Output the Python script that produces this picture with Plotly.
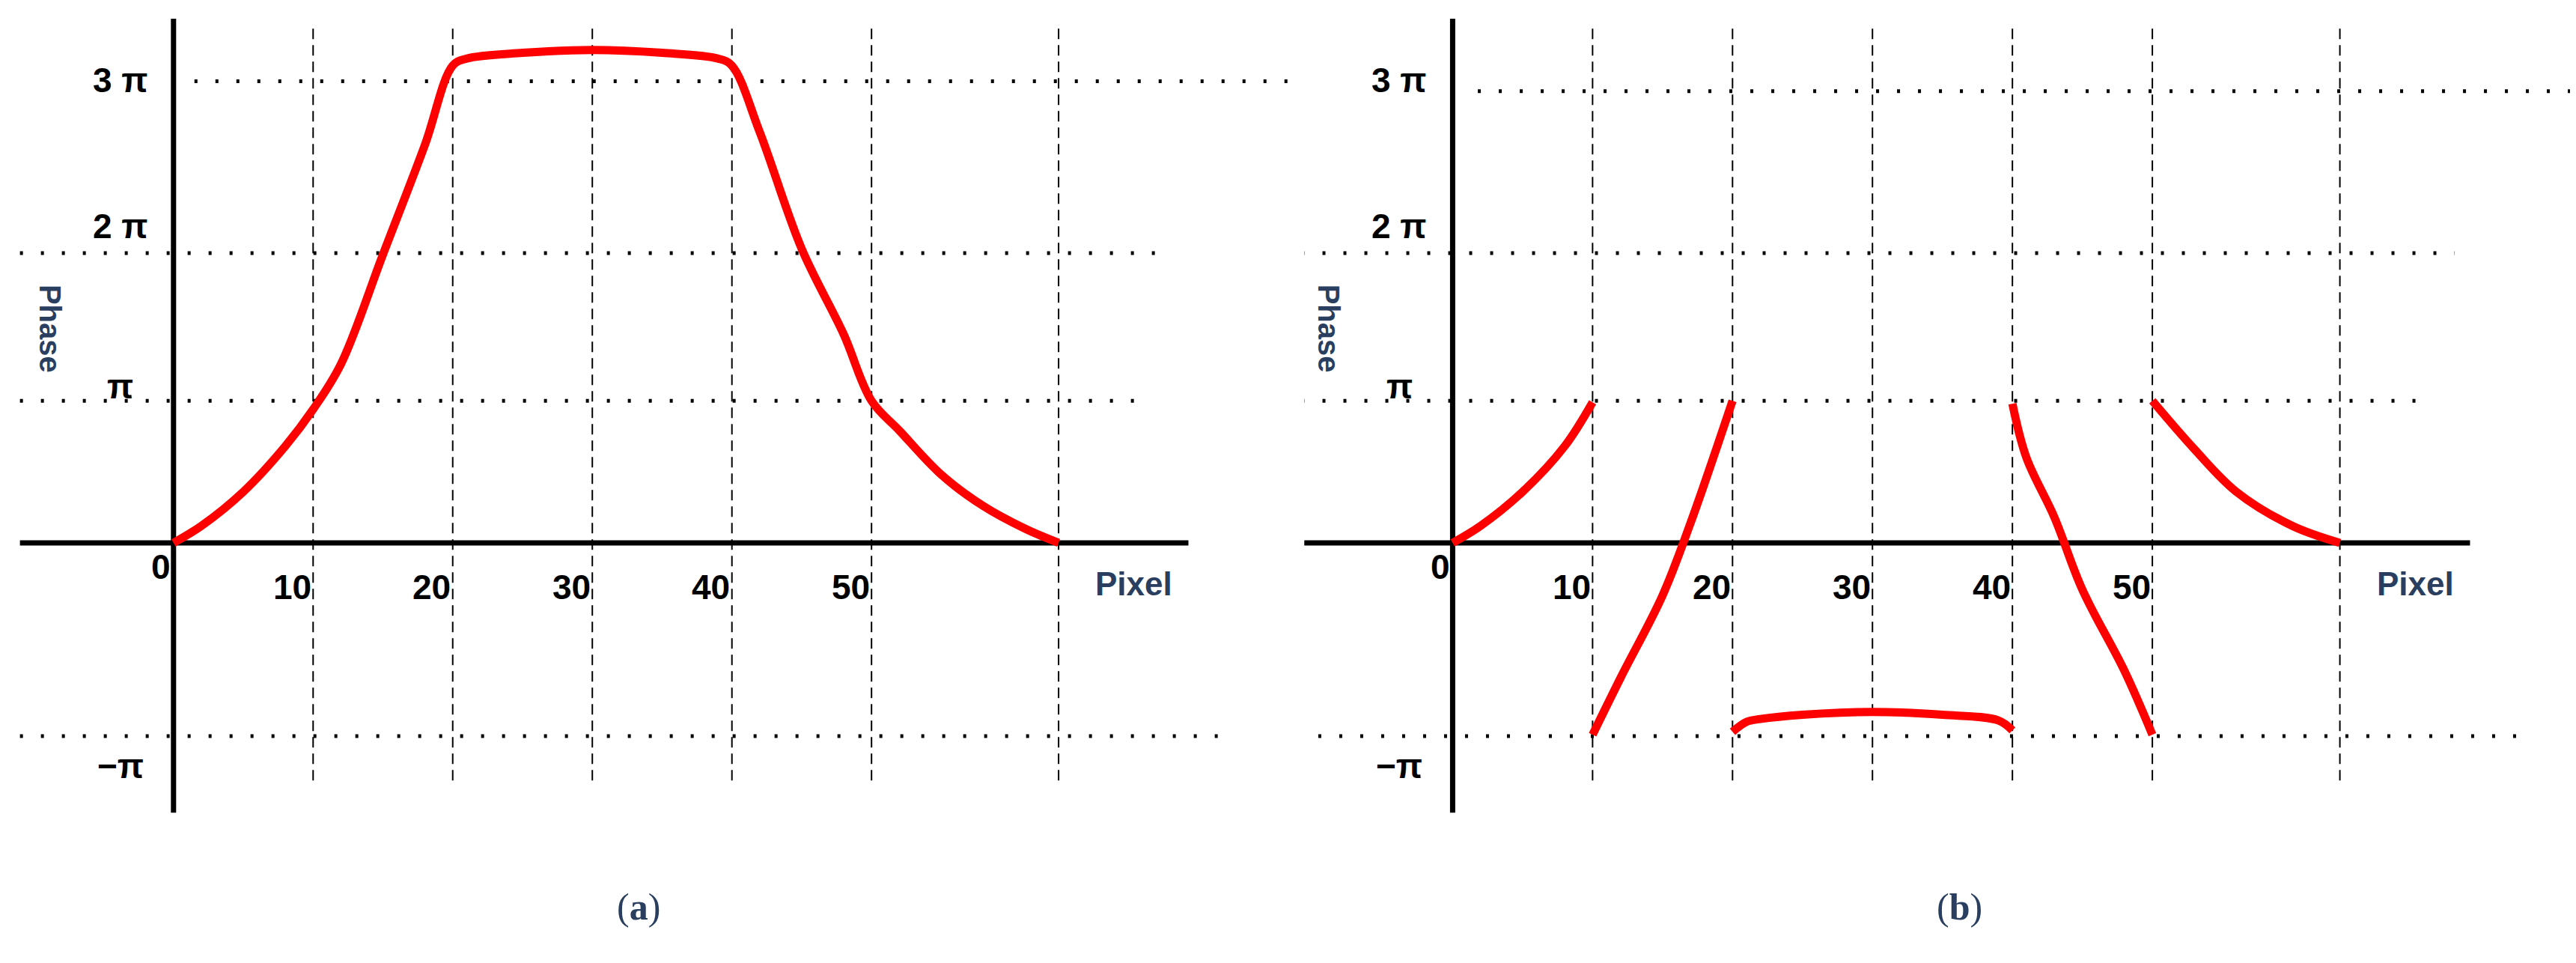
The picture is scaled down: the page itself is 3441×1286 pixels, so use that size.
import plotly.graph_objects as go

# phase in units of pi (schematic), pixel index
a_x = [0, 2, 5, 8, 10, 12, 15, 18, 20, 21, 25, 30, 35, 39, 40, 42, 45, 48, 50, 52, 55, 58, 61, 63.4]
a_y = [0, 0.12, 0.36, 0.68, 0.94, 1.26, 2.03, 2.8, 3.36, 3.41, 3.45, 3.47, 3.45, 3.41, 3.36, 2.89, 2.07, 1.47, 1.0, 0.79, 0.48, 0.26, 0.1, 0]

b_segments = [
    ([0, 2, 5, 8, 10], [0, 0.12, 0.36, 0.68, 0.99]),
    ([10, 12, 15, 17, 20], [-1.35, -0.95, -0.37, 0.14, 1.0]),
    ([20, 21, 22, 25, 30, 35, 39, 40], [-1.33, -1.26, -1.24, -1.21, -1.19, -1.21, -1.25, -1.32]),
    ([40, 41, 43, 45, 48, 50], [0.98, 0.6, 0.18, -0.33, -0.9, -1.35]),
    ([50, 53, 56, 60, 63.4], [1.0, 0.66, 0.36, 0.12, 0]),
]

grid_x = [10, 20, 30, 40, 50, 63.4]
tick_x = [10, 20, 30, 40, 50]
level_y = [3.25, 2.04, 1.0, -1.36]
level_y_b = [3.18, 2.04, 1.0, -1.36]
level_labels = ["3 π", "2 π", "π", "−π"]
label_y = [3.26, 2.23, 1.1, -1.57]
dot_span_a = [(1.5, 79.8), (-11, 71.5), (-11, 69.8), (-11, 75)]
dot_span_b = [(1.8, 80), (-10.8, 71.6), (-10.8, 69.9), (-9.6, 76.1)]

FONT = "Liberation Sans Narrow, Liberation Sans, Arial"
fig = go.Figure()


def panel(xa, ya, levels, spans, caption, cap_x):
    for lv, (x0, x1) in zip(levels, spans):
        fig.add_trace(go.Scatter(x=[x0, x1], y=[lv, lv], mode="lines", xaxis=xa, yaxis=ya,
                                 line=dict(color="black", width=5, dash="4px,24px"), showlegend=False))
    for gx in grid_x:
        fig.add_trace(go.Scatter(x=[gx, gx], y=[3.62, -1.69], mode="lines", xaxis=xa, yaxis=ya,
                                 line=dict(color="black", width=2, dash="14px,8px"), showlegend=False))
    fig.add_trace(go.Scatter(x=[-11, 72.7], y=[0, 0], mode="lines", xaxis=xa, yaxis=ya,
                             line=dict(color="black", width=7), showlegend=False))
    fig.add_trace(go.Scatter(x=[0, 0], y=[3.69, -1.9], mode="lines", xaxis=xa, yaxis=ya,
                             line=dict(color="black", width=7), showlegend=False))
    ref = dict(xref=xa, yref=ya, showarrow=False)
    f = dict(family=FONT, size=46, color="black")
    for lab, ly in zip(level_labels, label_y):
        fig.add_annotation(x=-3.8, y=ly, text="<b>%s</b>" % lab, font=f, **ref)
    fig.add_annotation(x=-0.9, y=-0.17, text="<b>0</b>", font=f, **ref)
    for t in tick_x:
        fig.add_annotation(x=t - 1.5, y=-0.31, text="<b>%d</b>" % t, font=f, **ref)
    fig.add_annotation(x=68.8, y=-0.29, text="<b>Pixel</b>", font=dict(family=FONT, size=44), **ref)
    fig.add_annotation(x=-8.8, y=1.51, text="<b>Phase</b>", textangle=90,
                       font=dict(family="Liberation Sans, Arial", size=40), **ref)
    fig.add_annotation(x=cap_x, y=-2.56, text="(<b>%s</b>)" % caption,
                       font=dict(family="Liberation Serif, Times New Roman", size=50), **ref)


panel("x", "y", level_y, dot_span_a, "a", 33.3)
panel("x2", "y2", level_y_b, dot_span_b, "b", 36.2)

fig.add_trace(go.Scatter(x=a_x, y=a_y, mode="lines", line=dict(color="#ff0000", width=11, shape="spline"),
                         xaxis="x", yaxis="y", showlegend=False))
for sx, sy in b_segments:
    fig.add_trace(go.Scatter(x=sx, y=sy, mode="lines", line=dict(color="#ff0000", width=11, shape="spline"),
                             xaxis="x2", yaxis="y2", showlegend=False))

ax = dict(visible=False, fixedrange=True)
fig.update_layout(
    width=3441, height=1286, margin=dict(l=0, r=0, t=0, b=0),
    plot_bgcolor="white", paper_bgcolor="white",
    xaxis=dict(domain=[0, 0.504], range=[-12, 81], **ax),
    yaxis=dict(domain=[0, 1], range=[-3.0, 3.78], **ax),
    xaxis2=dict(domain=[0.504, 1], range=[-10.6, 80.7], **ax),
    yaxis2=dict(domain=[0, 1], range=[-3.0, 3.78], anchor="x2", **ax),
)
fig.write_html("out.html")
